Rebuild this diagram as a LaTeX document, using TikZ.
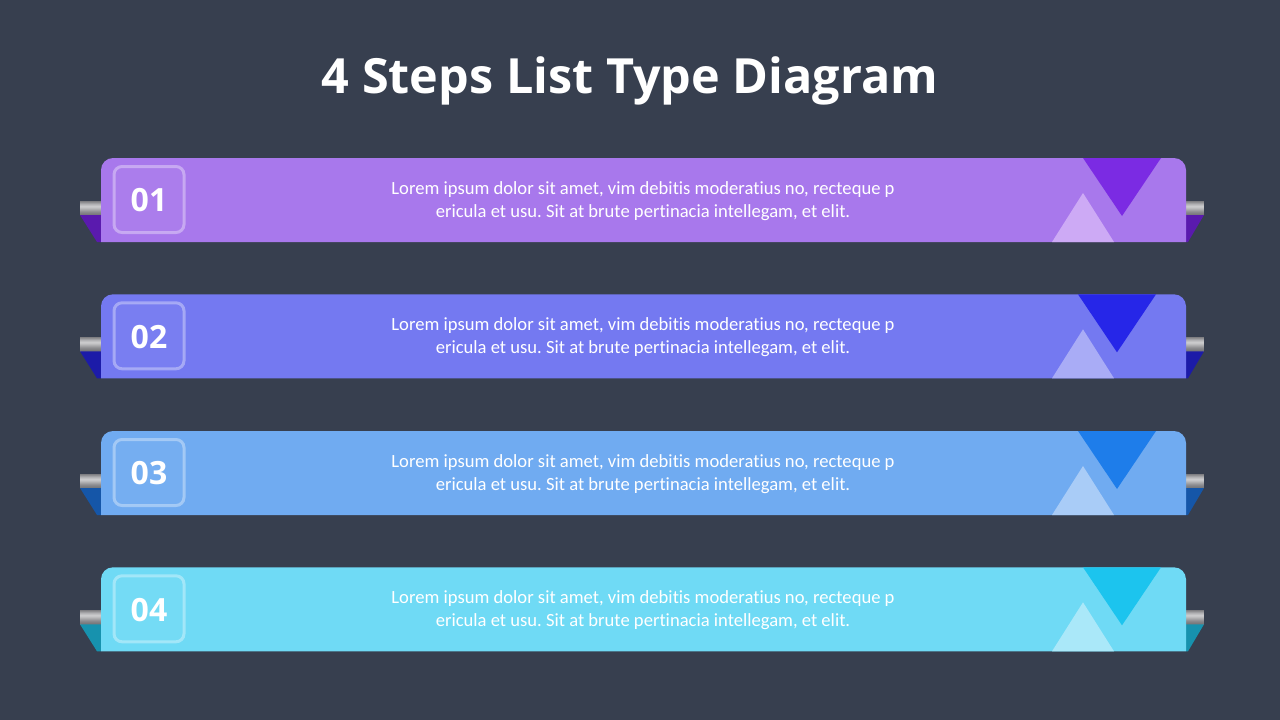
\documentclass[tikz,border=0pt]{standalone}
\usepackage{fontspec}
\setmainfont{Carlito}[Ligatures=NoCommon]
\newfontfamily\headfont{Open Sans}
\frenchspacing
\definecolor{bg}{HTML}{373F4F}
\definecolor{barA}{HTML}{A878EC}
\definecolor{darkA}{HTML}{7B2BE3}
\definecolor{lightA}{HTML}{CDAAF5}
\definecolor{tabA}{HTML}{5A1AAE}
\definecolor{barB}{HTML}{7479F1}
\definecolor{darkB}{HTML}{2626E8}
\definecolor{lightB}{HTML}{A9ACF6}
\definecolor{tabB}{HTML}{1C1BA8}
\definecolor{barC}{HTML}{70ABF1}
\definecolor{darkC}{HTML}{1E7DEA}
\definecolor{lightC}{HTML}{A9CCF7}
\definecolor{tabC}{HTML}{1556A8}
\definecolor{barD}{HTML}{6FDAF5}
\definecolor{darkD}{HTML}{1CC4EE}
\definecolor{lightD}{HTML}{AAE8F9}
\definecolor{tabD}{HTML}{1792AE}
\definecolor{gdark}{HTML}{5E5E62}
\definecolor{glight}{HTML}{CACACC}
\tikzset{
  titletext/.style={text=white, inner sep=0pt, font=\headfont\bfseries\fontsize{48.5}{56}\selectfont},
  numtext/.style={text=white, inner sep=0pt, font=\headfont\bfseries\fontsize{32}{36}\selectfont},
  bodytext/.style={text=white, inner sep=0pt, align=center, font=\fontsize{18.6}{23}\selectfont},
  numbox/.style={draw=white, draw opacity=0.35, line width=3pt, rounded corners=8pt, fill=white, fill opacity=0.04},
}
\begin{document}
\begin{tikzpicture}[x=1pt,y=-1pt]
\fill[bg] (0,0) rectangle (1280,720);
\useasboundingbox (0,0) rectangle (1280,720);
\node[titletext, anchor=base] (title) at (630,93) {4 Steps List Type Diagram};
\foreach \i/\t/\dx/\c in {01/158/0/A, 02/294.3/-5/B, 03/431/-5/C, 04/567.3/0/D}{
  % gray tabs behind the bar (vertical gradient built from strips)
  \foreach \k/\m in {0/30, 1/45, 2/62, 3/78, 4/90, 5/100, 6/96, 7/86, 8/74, 9/62, 10/50, 11/40, 12/32, 13/26}{
    \fill[glight!\m!gdark] (80,{\t+43+\k}) rectangle (101,{\t+44.2+\k});
    \fill[glight!\m!gdark] (1186,{\t+43+\k}) rectangle (1204,{\t+44.2+\k});
  }
  \fill[tab\c] (80,{\t+57}) -- (101,{\t+57}) -- (101,{\t+84}) -- (97,{\t+84}) -- cycle;
  \fill[tab\c] (1186,{\t+57}) -- (1204,{\t+57}) -- (1188,{\t+84}) -- (1186,{\t+84}) -- cycle;
  % bar
  \fill[bar\c] (101,{\t+84}) -- (101,{\t+12}) arc[start angle=180, end angle=270, radius=12]
     -- (1174,\t) arc[start angle=270, end angle=360, radius=12] -- (1186,{\t+84}) -- cycle;
  % triangles
  \fill[dark\c] ({1083+\dx},\t) -- ({1161+\dx},\t) -- ({1122+\dx},{\t+58}) -- cycle;
  \fill[light\c] (1052,{\t+84}) -- (1083,{\t+35}) -- (1114,{\t+84}) -- cycle;
  % number box
  \draw[numbox] (114,{\t+8.5}) rectangle (184,{\t+74.5});
  \node[numtext] (num\i) at (149,{\t+42.5}) {\i};
  \node[bodytext] (txt\i) at (643,{\t+43.3}) {Lorem ipsum dolor sit amet, vim debitis moderatius no, recteque p\\ericula et usu. Sit at brute pertinacia intellegam, et elit.};
}
\end{tikzpicture}
\end{document}
